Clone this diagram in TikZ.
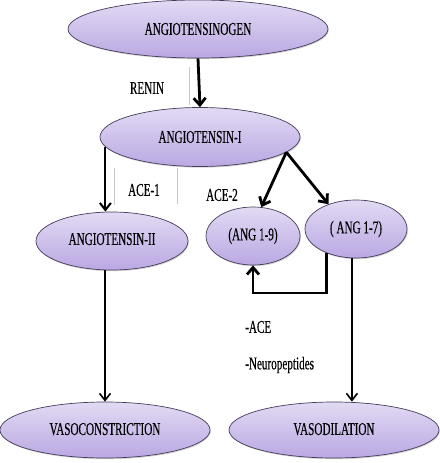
\documentclass[tikz,border=0pt]{standalone}
\usepackage{fontspec}
\setmainfont{Liberation Serif}[FakeStretch=0.62,FakeBold=0.3]
\usetikzlibrary{shapes.geometric,arrows.meta,shadows}
\definecolor{lavtop}{RGB}{226,218,244}
\definecolor{lavbot}{RGB}{186,168,226}
\definecolor{lavline}{RGB}{70,60,90}
\begin{document}
\begin{tikzpicture}[x=1pt,y=-1pt,
  every node/.style={font=\fontsize{18}{20}\selectfont},
  oval/.style={ellipse,draw=lavline,line width=0.7pt,top color=lavtop,bottom color=lavbot,
    inner sep=0pt,drop shadow={shadow xshift=0.8pt,shadow yshift=-1.2pt,opacity=0.35}},
  heavy/.style={line width=2.8pt,-{Straight Barb[length=7pt,width=12pt]}},
  mid/.style={line width=2.1pt,-{Straight Barb[length=7pt,width=11pt]}},
  light/.style={line width=1.6pt,-{Straight Barb[length=7pt,width=11pt]}},
  sep/.style={gray!45,line width=0.5pt},
  lbl/.style={inner sep=0pt}]
\useasboundingbox (0,0) rectangle (439,463);
\node[oval,minimum width=260,minimum height=58] (gen) at (198,29) {ANGIOTENSINOGEN};
\node[oval,minimum width=200,minimum height=59] (ang1) at (200,137) {ANGIOTENSIN-I};
\node[oval,minimum width=152,minimum height=58] (ang2) at (112,241) {\raisebox{4pt}{ANGIOTENSIN-II}};
\node[oval,minimum width=94,minimum height=58] (a19) at (253,236) {(ANG 1-9)};
\node[oval,minimum width=102,minimum height=58] (a17) at (356,229) {\raisebox{2pt}{( ANG 1-7)}};
\node[oval,minimum width=210,minimum height=56] (con) at (105,430) {\raisebox{2pt}{VASOCONSTRICTION}};
\node[oval,minimum width=210,minimum height=56] (dil) at (334,430) {\raisebox{2pt}{VASODILATION}};

\node[lbl] (renin) at (147,88) {RENIN};
\node[lbl] (ace1) at (144,190) {ACE-1};
\node[lbl] (ace2) at (222,195) {ACE-2};
\node[lbl,anchor=west] (ace) at (245,327) {-ACE};
\node[lbl,anchor=west] (neuro) at (245,365) {-Neuropeptides};

\draw[sep] (189,67) -- (189,105);
\draw[sep] (114,168) -- (114,205);
\draw[sep] (177,168) -- (177,204);

\draw[heavy] (gen.south) -- (ang1.north);
\draw[mid] (ang1.186) -- (ang1.186 |- ang2.north);
\draw[heavy] (ang1.-10) -- (a19.74);
\draw[heavy] (ang1.-10) -- (a17.138);
\draw[heavy] (a17.219) -- ++(0,40) -| (a19.south);
\draw[light] (con.north |- ang2.south) -- (con.north);
\draw[light] (a17.262) -- (a17.262 |- dil.north);
\end{tikzpicture}
\end{document}
